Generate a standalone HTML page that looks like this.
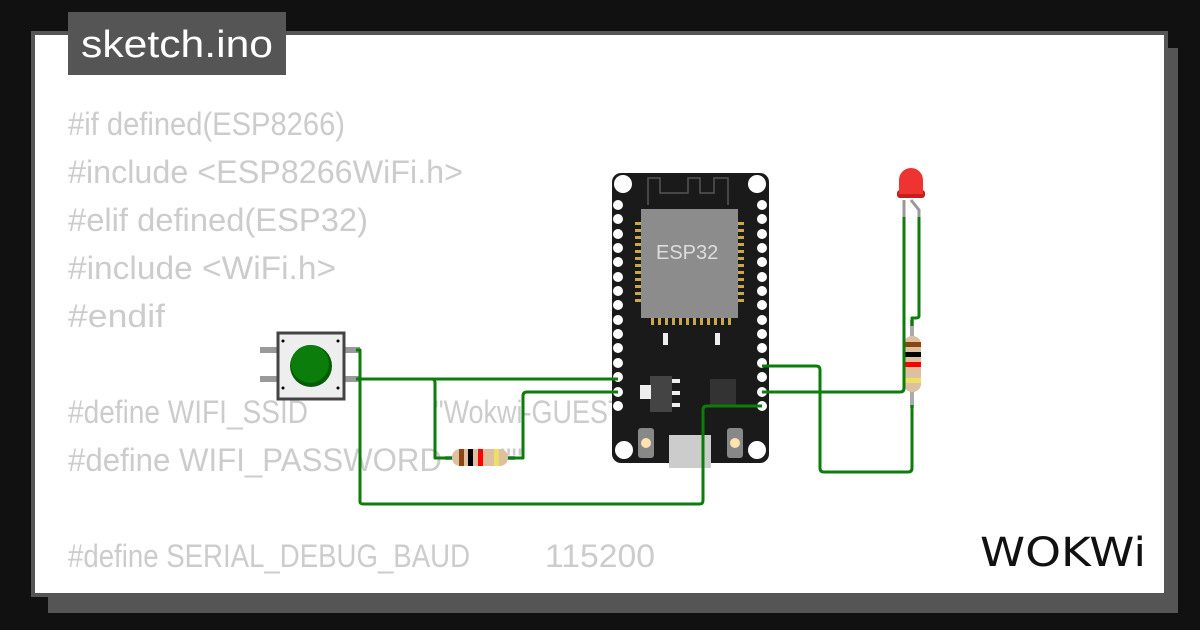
<!DOCTYPE html>
<html><head><meta charset="utf-8"><style>
html,body{margin:0;padding:0;background:#111;}
svg{display:block;}
</style></head><body>
<svg width="1200" height="630" viewBox="0 0 1200 630" xmlns="http://www.w3.org/2000/svg" font-family="Liberation Sans, sans-serif">
<rect width="1200" height="630" fill="#111"/>
<rect x="48" y="48" width="1130" height="565" fill="#555"/>
<rect x="33" y="33" width="1133" height="562" fill="#fff" stroke="#555" stroke-width="4"/>
<rect x="68" y="12" width="218" height="63" fill="#555"/>
<text x="81" y="57" font-size="38" fill="#fff" textLength="192" lengthAdjust="spacingAndGlyphs">sketch.ino</text>
<g fill="#ccc" font-size="32">
<text x="68" y="135" textLength="277" lengthAdjust="spacingAndGlyphs">#if defined(ESP8266)</text>
<text x="68" y="183" textLength="395" lengthAdjust="spacingAndGlyphs">#include &lt;ESP8266WiFi.h&gt;</text>
<text x="68" y="231" textLength="300" lengthAdjust="spacingAndGlyphs">#elif defined(ESP32)</text>
<text x="68" y="279" textLength="268" lengthAdjust="spacingAndGlyphs">#include &lt;WiFi.h&gt;</text>
<text x="68" y="327" textLength="97" lengthAdjust="spacingAndGlyphs">#endif</text>
<text x="68" y="423" textLength="240" lengthAdjust="spacingAndGlyphs">#define WIFI_SSID</text>
<text x="434" y="423" textLength="200" lengthAdjust="spacingAndGlyphs">"Wokwi-GUEST"</text>
<text x="68" y="471" textLength="374" lengthAdjust="spacingAndGlyphs">#define WIFI_PASSWORD</text>
<text x="500" y="471">""</text>
<text x="68" y="567" textLength="402" lengthAdjust="spacingAndGlyphs">#define SERIAL_DEBUG_BAUD</text>
<text x="545" y="567" textLength="110" lengthAdjust="spacingAndGlyphs">115200</text>
</g>
<!-- button -->
<rect x="260" y="347" width="20" height="6" fill="#999"/>
<rect x="260" y="376" width="20" height="6" fill="#999"/>
<rect x="340" y="347" width="20" height="6" fill="#999"/>
<rect x="340" y="376" width="20" height="6" fill="#999"/>
<rect x="278" y="333" width="66" height="66" fill="#eee" stroke="#444" stroke-width="3"/>
<circle cx="283" cy="341" r="1.5" fill="#000"/><circle cx="338" cy="341" r="1.5" fill="#000"/>
<circle cx="283" cy="388" r="1.5" fill="#000"/><circle cx="338" cy="388" r="1.5" fill="#000"/>
<circle cx="311" cy="366" r="21" fill="#065c06"/>
<circle cx="310" cy="364" r="19" fill="#0a7d0a"/>
<!-- resistor horizontal -->
<rect x="445" y="456" width="70" height="4" fill="#aaa"/>
<rect x="452" y="449" width="56" height="17" rx="8" fill="#dcc0a0"/>
<rect x="459" y="449" width="5" height="17" fill="#8b4513"/>
<rect x="468" y="449" width="5" height="17" fill="#000"/>
<rect x="478" y="449" width="5" height="17" fill="#f00"/>
<rect x="494" y="449" width="5" height="17" fill="#eedd66"/>
<!-- resistor vertical -->
<rect x="910" y="320" width="4" height="88" fill="#aaa"/>
<rect x="904" y="336" width="17" height="56" rx="8" fill="#dcc0a0"/>
<rect x="904" y="342" width="17" height="5" fill="#8b4513"/>
<rect x="904" y="352" width="17" height="5" fill="#000"/>
<rect x="904" y="362" width="17" height="5" fill="#f00"/>
<rect x="904" y="378" width="17" height="5" fill="#eedd66"/>
<!-- LED -->
<path d="M904 200 V217 M911 200 L919 210 V217" stroke="#999" stroke-width="3" fill="none"/>
<rect x="897" y="190" width="28" height="8" rx="3" fill="#c41e1e"/>
<path d="M899 194 V180 A12 12 0 0 1 923 180 V194 Z" fill="#e33"/>
<!-- ESP32 board -->
<rect x="612" y="173" width="157" height="290" rx="9" fill="#1a1a1a"/>
<path d="M648 205 V178 H660 V193 H688 V178 H700 V193 H714 V178 H728 V205" stroke="#555" stroke-width="1.5" fill="none"/>
<g fill="#c9a84a">
<rect x="635" y="222" width="6" height="3"/><rect x="635" y="229" width="6" height="3"/><rect x="635" y="236" width="6" height="3"/><rect x="635" y="243" width="6" height="3"/><rect x="635" y="250" width="6" height="3"/><rect x="635" y="257" width="6" height="3"/><rect x="635" y="264" width="6" height="3"/><rect x="635" y="271" width="6" height="3"/><rect x="635" y="278" width="6" height="3"/><rect x="635" y="285" width="6" height="3"/><rect x="635" y="292" width="6" height="3"/><rect x="635" y="299" width="6" height="3"/>
<rect x="738" y="222" width="6" height="3"/><rect x="738" y="229" width="6" height="3"/><rect x="738" y="236" width="6" height="3"/><rect x="738" y="243" width="6" height="3"/><rect x="738" y="250" width="6" height="3"/><rect x="738" y="257" width="6" height="3"/><rect x="738" y="264" width="6" height="3"/><rect x="738" y="271" width="6" height="3"/><rect x="738" y="278" width="6" height="3"/><rect x="738" y="285" width="6" height="3"/><rect x="738" y="292" width="6" height="3"/><rect x="738" y="299" width="6" height="3"/>
<rect x="651" y="318" width="3" height="7"/><rect x="658" y="318" width="3" height="7"/><rect x="665" y="318" width="3" height="7"/><rect x="672" y="318" width="3" height="7"/><rect x="679" y="318" width="3" height="7"/><rect x="686" y="318" width="3" height="7"/><rect x="693" y="318" width="3" height="7"/><rect x="700" y="318" width="3" height="7"/><rect x="707" y="318" width="3" height="7"/><rect x="714" y="318" width="3" height="7"/><rect x="721" y="318" width="3" height="7"/><rect x="728" y="318" width="3" height="7"/>
</g>
<rect x="641" y="209" width="97" height="109" fill="#8c8c8c"/>
<text x="656" y="259" font-size="20" fill="#ddd">ESP32</text>
<rect x="663" y="333" width="5" height="12" fill="#eee"/><rect x="715" y="333" width="5" height="12" fill="#eee"/>
<rect x="650" y="376" width="22" height="36" fill="#444"/><rect x="640" y="385" width="11" height="14" fill="#eee"/>
<rect x="672" y="379" width="8" height="4" fill="#eee"/><rect x="672" y="391" width="8" height="4" fill="#eee"/><rect x="672" y="403" width="8" height="4" fill="#eee"/>
<rect x="710" y="379" width="26" height="28" fill="#333"/>
<rect x="638" y="428" width="16" height="30" rx="3" fill="#888"/><circle cx="646" cy="443" r="5" fill="#fce3b0"/>
<rect x="727" y="428" width="16" height="30" rx="3" fill="#888"/><circle cx="735" cy="443" r="5" fill="#fce3b0"/>
<rect x="669" y="435" width="42" height="33" fill="#ccc"/>
<g fill="#fff">
<circle cx="623" cy="184" r="9"/><circle cx="757" cy="184" r="9"/><circle cx="624" cy="450" r="9"/><circle cx="757" cy="450" r="9"/>
<circle cx="618" cy="205" r="5"/><circle cx="618" cy="219" r="5"/><circle cx="618" cy="234" r="5"/><circle cx="618" cy="248" r="5"/><circle cx="618" cy="262" r="5"/><circle cx="618" cy="277" r="5"/><circle cx="618" cy="291" r="5"/><circle cx="618" cy="305" r="5"/><circle cx="618" cy="320" r="5"/><circle cx="618" cy="334" r="5"/><circle cx="618" cy="348" r="5"/><circle cx="618" cy="363" r="5"/><circle cx="618" cy="377" r="5"/><circle cx="618" cy="392" r="5"/><circle cx="618" cy="406" r="5"/>
<circle cx="762" cy="205" r="5"/><circle cx="762" cy="219" r="5"/><circle cx="762" cy="234" r="5"/><circle cx="762" cy="248" r="5"/><circle cx="762" cy="262" r="5"/><circle cx="762" cy="277" r="5"/><circle cx="762" cy="291" r="5"/><circle cx="762" cy="305" r="5"/><circle cx="762" cy="320" r="5"/><circle cx="762" cy="334" r="5"/><circle cx="762" cy="348" r="5"/><circle cx="762" cy="363" r="5"/><circle cx="762" cy="377" r="5"/><circle cx="762" cy="392" r="5"/><circle cx="762" cy="406" r="5"/>
</g>
<!-- wires (on top) -->
<g fill="none" stroke="#0a7d0a" stroke-width="3" stroke-linejoin="round">
<path d="M356 350 H360 V502 Q360 504 364 504 H700 Q703 504 703 500 V410 Q703 406 707 406 H762"/>
<path d="M356 379 H618"/>
<path d="M432 379 Q435 379 435 383 V458 H452"/>
<path d="M508 458 H523 V396 Q523 392 527 392 H618"/>
<path d="M762 392 H900 Q904 392 904 388 V217"/>
<path d="M919 217 V316 Q919 318 916 318 H912 V326"/>
<path d="M912 405 V468 Q912 472 908 472 H824 Q820 472 820 468 V370 Q820 366 816 366 H762"/>
</g>
<!-- logo -->
<text x="980" y="566" font-size="40" fill="#111" font-family="DejaVu Sans, sans-serif" textLength="166" lengthAdjust="spacingAndGlyphs">WOKWi</text>
</svg>
</body></html>
